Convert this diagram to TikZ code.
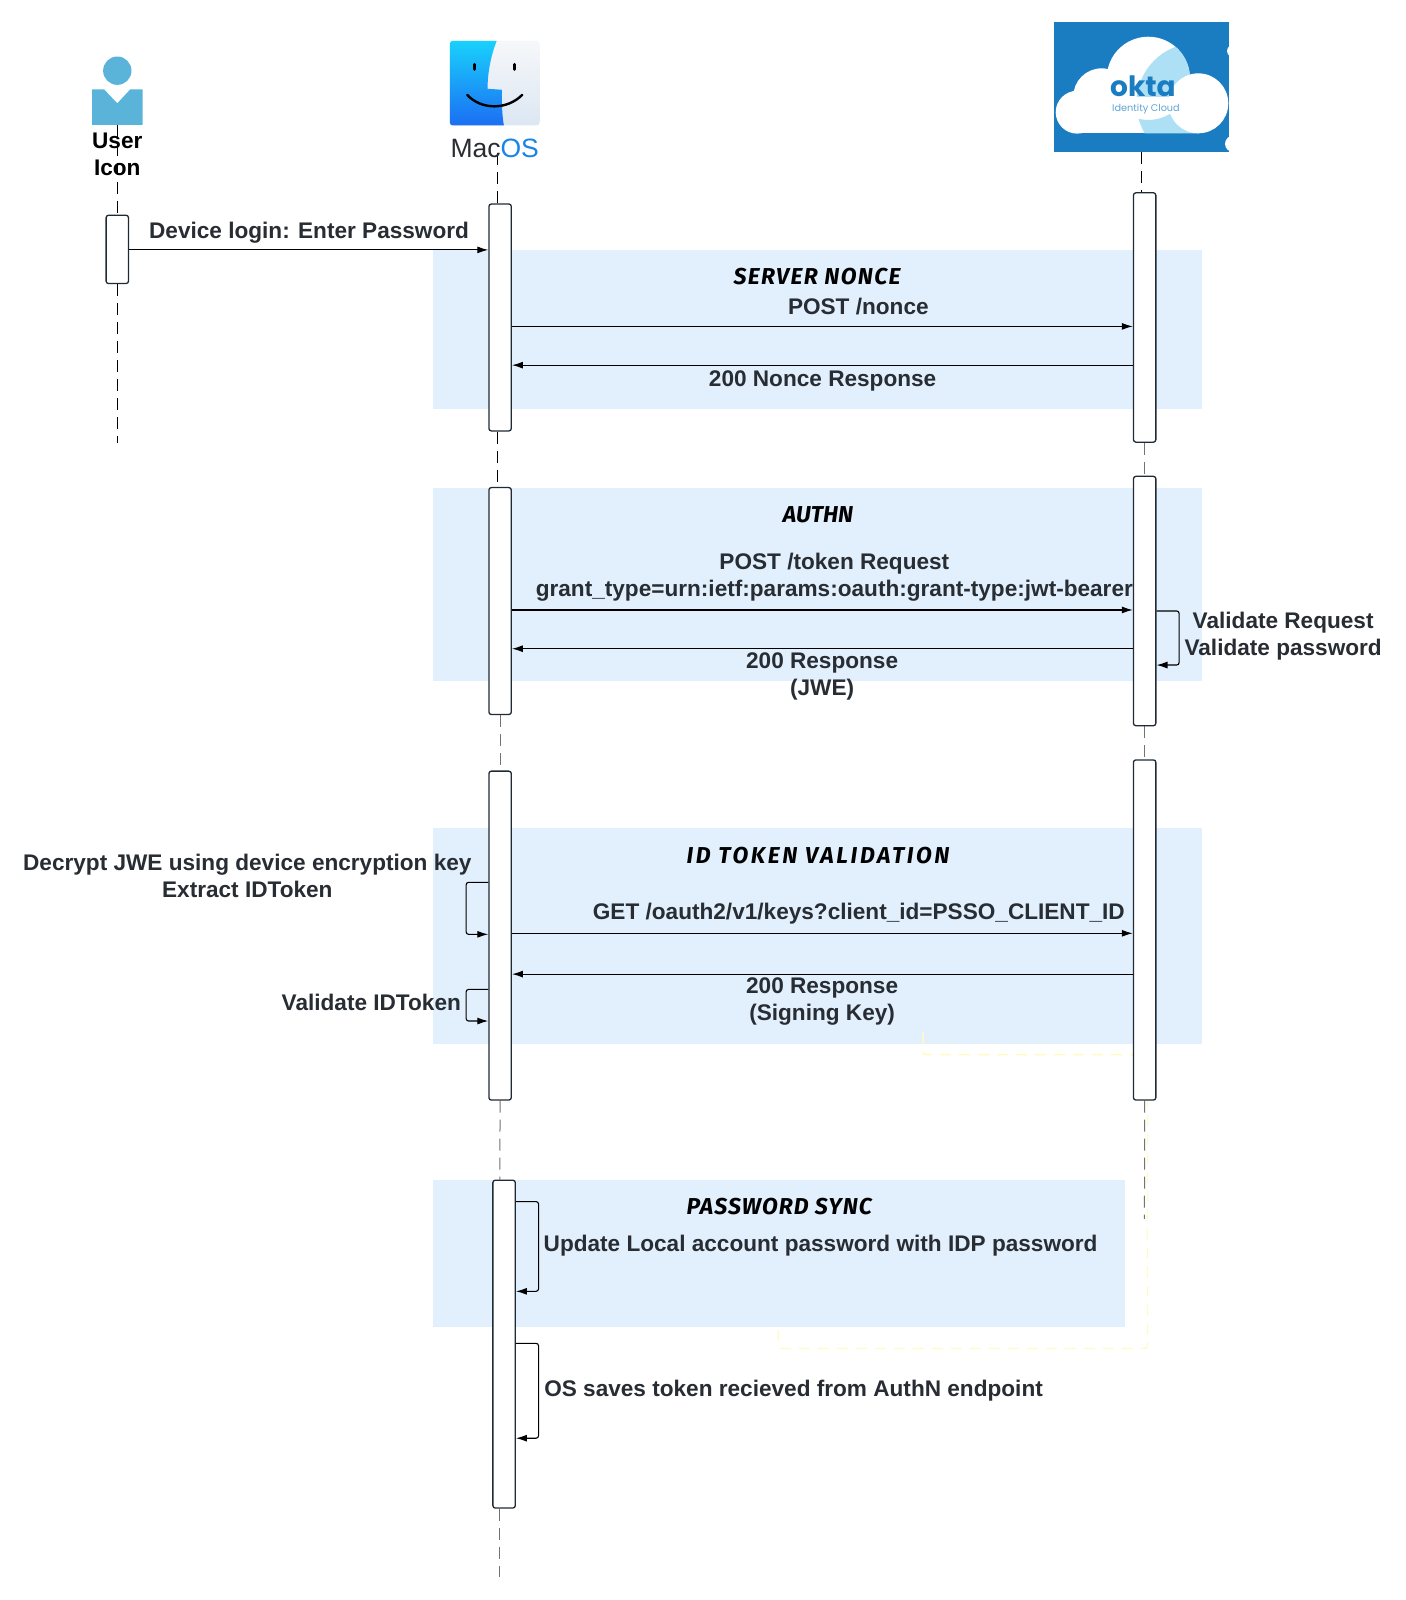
\documentclass[tikz,border=0pt]{standalone}
\usepackage{fontspec}
\setmainfont{Liberation Sans}
\newfontfamily\handfont{Fira Sans}
\newfontfamily\oktafont{Poppins}
\usetikzlibrary{arrows.meta}
\definecolor{band}{HTML}{E2F0FD}
\definecolor{ink}{HTML}{282C33}
\definecolor{lineink}{HTML}{1F2A36}
\definecolor{usercol}{HTML}{5AB4DA}
\definecolor{oktablue}{HTML}{1B7DC1}
\definecolor{crescent}{HTML}{AEE0F5}
\definecolor{paleyellow}{HTML}{FFFBC4}
\definecolor{findertop}{HTML}{19D1FC}
\definecolor{finderbot}{HTML}{1B6EF3}
\definecolor{facetop}{HTML}{F6F7F9}
\definecolor{facebot}{HTML}{DCE7F3}
\pgfdeclarelayer{bandlayer}
\pgfdeclarelayer{linelayer}
\pgfsetlayers{bandlayer,linelayer,main}
\tikzset{
  lifeline/.style={draw=black,line width=1pt,dash pattern=on 12pt off 7pt},
  greyline/.style={draw=black!55,line width=1pt,dash pattern=on 12pt off 7pt},
  actbox/.style={draw=lineink,fill=white,line width=1.3pt,rounded corners=2.5pt,inner sep=0pt,minimum width=22.4pt},
  msg/.style={draw=black,line width=1.1pt,-{Latex[length=11pt,width=7pt]}},
  selfmsg/.style={msg,rounded corners=2.5pt},
  label/.style={text=ink,font=\fontsize{22.6}{27}\selectfont\bfseries,align=center,inner sep=0pt},
  heading/.style={text=black,font=\handfont\fontsize{23}{27}\selectfont\bfseries\itshape,inner sep=0pt},
}
\newcommand{\actnode}[4]{%
  \pgfmathsetmacro{\actmid}{(#3+#4)/2}%
  \pgfmathsetmacro{\acth}{(#4-#3)*1.02}%
  \node[actbox,minimum height=\acth pt] (#1) at (#2,\actmid) {};}
\begin{document}
\begin{tikzpicture}[x=1.02pt,y=-1.02pt]
\useasboundingbox (0,0) rectangle (1377.45,1568.63);
\begin{pgfonlayer}{bandlayer}
\fill[white] (0,0) rectangle (1377.45,1568.63);
\fill[band] (424.5,245) rectangle (1178,400.5);
\fill[band] (424.5,478) rectangle (1178,667.5);
\fill[band] (424.5,812) rectangle (1178,1023.5);
\fill[band] (424.5,1157) rectangle (1102.5,1300.5);
\end{pgfonlayer}
% activation boxes
\actnode{u1}{115}{211}{278}
\actnode{m1}{490.3}{200}{422.5}
\actnode{m2}{490.3}{478}{700.5}
\actnode{m3}{490.3}{756}{1078.5}
\actnode{m4}{494.2}{1157}{1478.5}
\actnode{o1}{1122.2}{189}{433.5}
\actnode{o2}{1122.2}{467}{711.5}
\actnode{o3}{1122.2}{745}{1078.5}
% user icon
\fill[usercol] (115,69.3) circle[radius=13.9];
\fill[usercol] (90.2,87.6) -- (102,87.6) -- (115,101.3) -- (127.7,87.6) -- (139.9,87.6) -- (139.9,122.5) -- (90.2,122.5) -- cycle;
\coordinate (utop) at (115,122.5);
\coordinate (uend) at (115,434);
\coordinate (mtop) at (488,150);
\coordinate (mend) at (490,1546);
\coordinate (otop) at (1119,149);
\coordinate (oend) at (1122,1195);
\coordinate (ya) at (905,1012);
\coordinate (yb) at (763,1300.5);
\begin{pgfonlayer}{linelayer}
\draw[paleyellow,line width=1.4pt,dash pattern=on 11pt off 8pt,rounded corners=3pt]
  (ya) -- (905,1034) -- (1125,1034) -- (1125,1322) -- (763,1322) -- (yb);
\draw[lifeline] (utop) -- (u1.north -| utop);
\draw[lifeline] (u1.south) -- (uend);
\draw[lifeline] (mtop) -- (mtop |- m1.north);
\draw[lifeline] (mtop |- m1.south) -- (mtop |- m2.north);
\draw[greyline] (m2.south) -- (m3.north);
\draw[greyline] (m3.south) -- (mend |- m4.north);
\draw[greyline] (mend |- m4.south) -- (mend);
\draw[lifeline] (otop) -- (otop |- o1.north);
\draw[greyline] (o1.south) -- (o2.north);
\draw[greyline] (o2.south) -- (o3.north);
\draw[greyline] (o3.south) -- (oend);
\end{pgfonlayer}
% finder icon
\begin{scope}
\clip[rounded corners=3pt] (441,40) rectangle (529,123);
\shade[top color=facetop,bottom color=facebot] (441,40) rectangle (529,123);
\shade[top color=findertop,bottom color=finderbot] (441,40) -- (487,40) .. controls (481,55) and (478,72) .. (478,87) -- (492,88) .. controls (492,100) and (492,112) .. (494,123) -- (441,123) -- cycle;
\end{scope}
\draw[black,line width=3pt,line cap=round] (465,63) -- (465,68);
\draw[black,line width=3pt,line cap=round] (504,63) -- (504,68);
\draw[black,line width=2.4pt,line cap=round] (458,93) .. controls (472,108) and (497,108) .. (512,93);
% okta
\begin{scope}
\clip (1033,22) rectangle (1205,149);
\fill[oktablue] (1033,22) rectangle (1205,149);
\fill[white] (1209,50) circle[radius=6];
\fill[white] (1209,141) circle[radius=8];
\fill[white] (1125.8,76.8) circle[radius=40.8];
\fill[white] (1080,94.8) circle[radius=27.8];
\fill[white] (1056,110) circle[radius=21];
\fill[white] (1056,95) rectangle (1175,130.7);
\begin{scope}
\clip (1125.8,76.8) circle[radius=40.8] (1056,95) rectangle (1175,130.7);
\fill[crescent] (1173,101) circle[radius=58.8];
\end{scope}
\fill[white] (1174.8,101.3) circle[radius=29.4];
\end{scope}
\node[text=oktablue,font=\oktafont\fontsize{28}{28}\selectfont\bfseries,inner sep=0pt] (oktaword) at (1120.5,84.5) {okta};
\node[text=oktablue!70,font=\oktafont\fontsize{9.7}{11}\selectfont,inner sep=0pt] (oktasub) at (1123.5,106.5) {Identity Cloud};
% actor labels
\node[text=black,font=\fontsize{22.6}{27}\selectfont\bfseries,align=center,inner sep=0pt] (userlab) at (115,151) {User\\Icon};
\node[font=\fontsize{26.5}{30}\selectfont,inner sep=0pt,text=ink] (maclab) at (485,145) {Mac\textcolor[HTML]{1684E8}{OS}};
% messages
\draw[msg] (u1.east |- 0,245) -- (m1.west |- 0,245);
\draw[msg] (m1.east |- 0,320) -- (o1.west |- 0,320);
\draw[msg] (o1.west |- 0,358) -- (m1.east |- 0,358);
\draw[msg] (m2.east |- 0,598) -- (o2.west |- 0,598);
\draw[msg] (o2.west |- 0,636) -- (m2.east |- 0,636);
\draw[selfmsg] (o2.east |- 0,599) -- (1156,599) -- (1156,652) -- (o2.east |- 0,652);
\draw[selfmsg] (m3.west |- 0,865) -- (457,865) -- (457,916) -- (m3.west |- 0,916);
\draw[msg] (m3.east |- 0,915) -- (o3.west |- 0,915);
\draw[msg] (o3.west |- 0,955) -- (m3.east |- 0,955);
\draw[selfmsg] (m3.west |- 0,970) -- (457,970) -- (457,1001) -- (m3.west |- 0,1001);
\draw[selfmsg] (m4.east |- 0,1178) -- (528,1178) -- (528,1266) -- (m4.east |- 0,1266);
\draw[selfmsg] (m4.east |- 0,1317) -- (528,1317) -- (528,1410) -- (m4.east |- 0,1410);
% labels
\node[label] (t1) at (303,228) {Device login: Enter Password};
\node[heading,font=\handfont\fontsize{23}{27}\selectfont\bfseries\itshape\addfontfeature{LetterSpace=6}] (h1) at (801,271) {SERVER NONCE};
\node[label] (t2) at (841.5,301) {POST /nonce};
\node[label] (t3) at (806.5,373) {200 Nonce Response};
\node[heading] (h2) at (802,505) {AUTHN};
\node[label] (t4) at (818,566) {POST /token Request\\grant\_type=urn:ietf:params:oauth:grant-type:jwt-bearer};
\node[label] (t5) at (1258,624) {Validate Request\\Validate password};
\node[label] (t6) at (806,663) {200 Response\\(JWE)};
\node[heading,font=\handfont\fontsize{23}{27}\selectfont\bfseries\itshape\addfontfeature{LetterSpace=11.5}] (h3) at (802,839) {ID TOKEN VALIDATION};
\node[label] (t7) at (242.5,858.5) {Decrypt JWE using device encryption key\\Extract IDToken};
\node[label] (t8) at (842,896) {GET /oauth2/v1/keys?client\_id=PSSO\_CLIENT\_ID};
\node[label] (t9) at (806,982) {200 Response\\(Signing Key)};
\node[label] (t10) at (364,983) {Validate IDToken};
\node[heading,font=\handfont\fontsize{23}{27}\selectfont\bfseries\itshape\addfontfeature{LetterSpace=4.5}] (h4) at (764,1183) {PASSWORD SYNC};
\node[label] (t11) at (804.5,1221) {Update Local account password with IDP password};
\node[label] (t12) at (778,1363) {OS saves token recieved from AuthN endpoint};
\end{tikzpicture}
\end{document}
